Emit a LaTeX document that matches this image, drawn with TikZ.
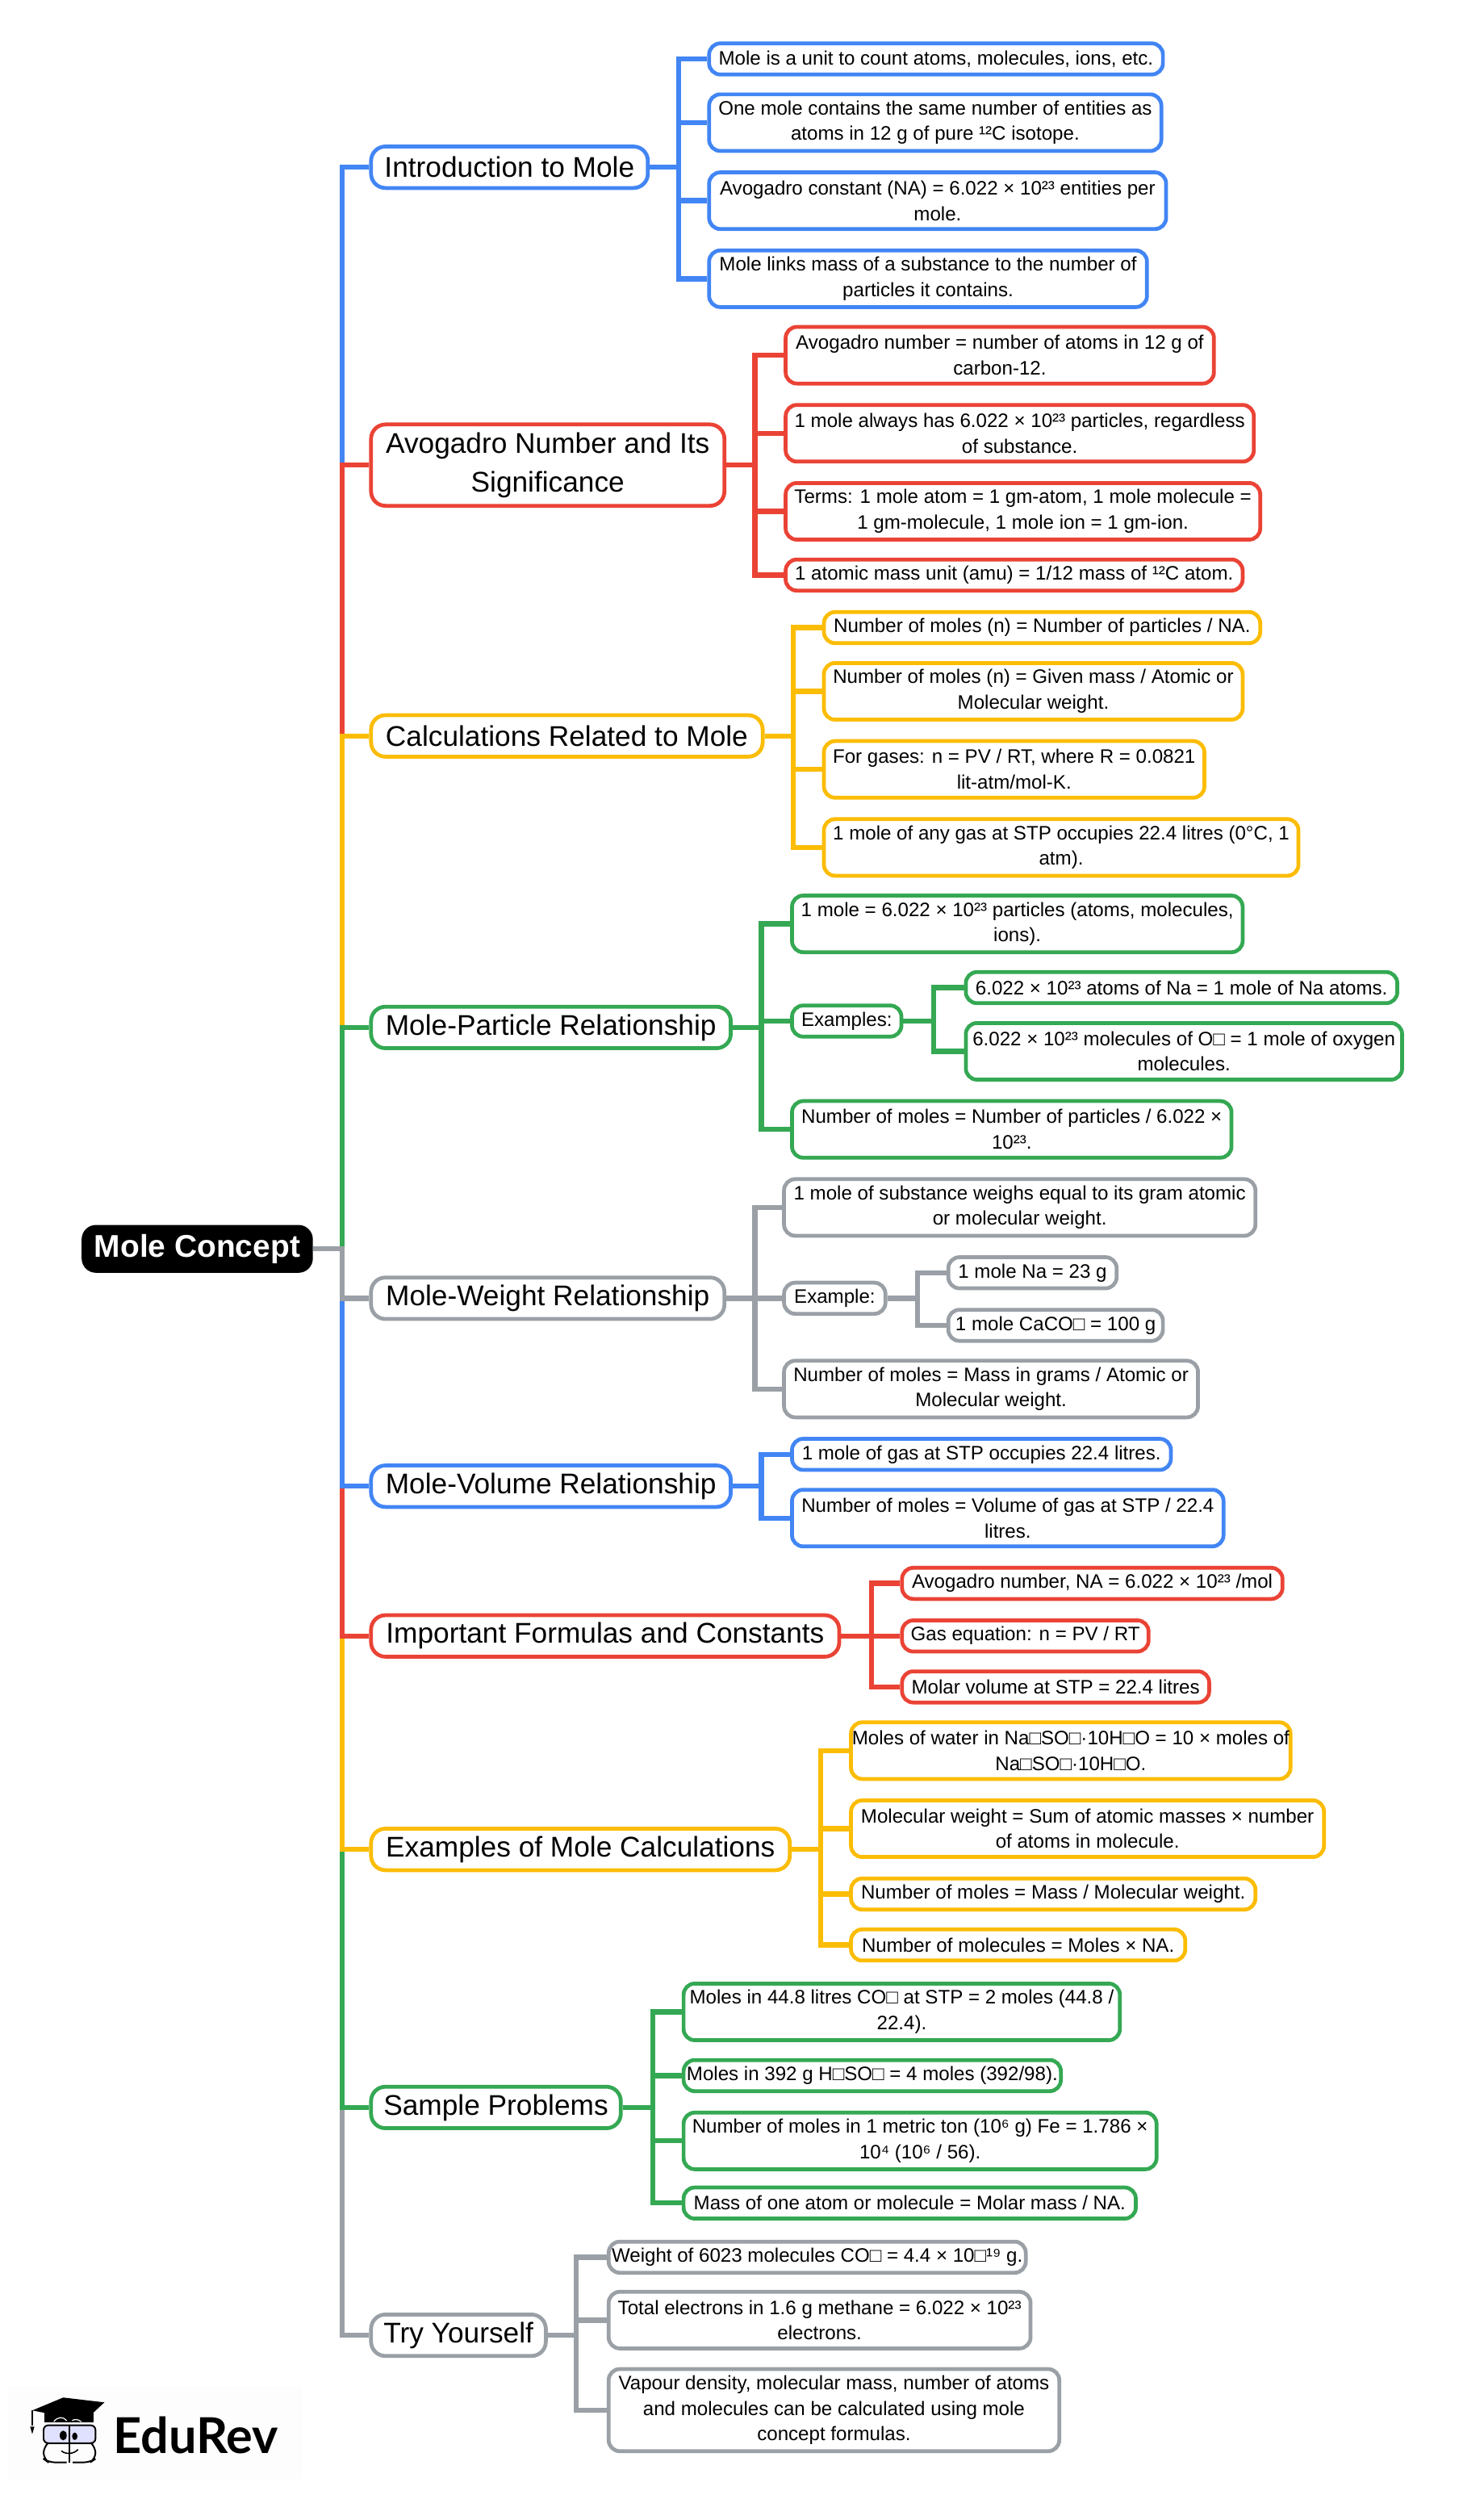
\documentclass[tikz,border=0pt]{standalone}
\usepackage{fontspec}
\setmainfont{Liberation Sans}
\newfontfamily\logofont{Lato}
\usetikzlibrary{positioning}
\definecolor{mapblue}{HTML}{4285F4}
\definecolor{mapred}{HTML}{EA4335}
\definecolor{mapyellow}{HTML}{FBBC04}
\definecolor{mapgreen}{HTML}{34A853}
\definecolor{mapgray}{HTML}{9AA0A6}
\definecolor{logoback}{HTML}{FDFDFE}
\tikzset{rootstyle/.style = {rectangle, rounded corners = 9pt, fill = black, text = white, anchor = west, inner sep = 0pt, minimum height = 30pt, font = \fontsize{19.7}{24}\selectfont\bfseries},
	branch/.style = {rectangle, rounded corners = 9pt, draw = #1, fill = white, line width = 2.4pt, anchor = west, xshift = -1.5pt, align = center, inner sep = 0pt, minimum height = 26pt, font = \fontsize{17.85}{24}\selectfont},
	leaf/.style = {rectangle, rounded corners = 7pt, draw = #1, fill = white, line width = 2.4pt, anchor = west, xshift = -1.5pt, align = center, inner ysep = 0pt, inner xsep = 0pt, minimum height = 19.5pt, font = \fontsize{12.2}{16}\selectfont},
	wd/.style = {minimum width = #1*1pt-1.4pt},
	two/.style = {minimum height = 35.5pt},
	three/.style = {minimum height = 51.5pt},
	wire/.style = {line width = 3.2pt, draw = #1}}
\begin{document}
\begin{tikzpicture}[x=1pt, y=-0.9987pt]
 \useasboundingbox (0,0) rectangle (930.2,1566.3);

 \node (root) at (51,784) [rootstyle, minimum width = 145pt] {Mole Concept};

 \node (intro) at (233,105) [branch=mapblue, wd=175] {Introduction to Mole};
 \node (avo) at (233,292) [branch=mapred, wd=223, minimum height = 51pt] {Avogadro Number and Its\\Significance};
 \node (calc) at (233,462) [branch=mapyellow, wd=247] {Calculations Related to Mole};
 \node (part) at (233,645) [branch=mapgreen, wd=227] {Mole-Particle Relationship};
 \node (weight) at (233,815) [branch=mapgray, wd=223] {Mole-Weight Relationship};
 \node (vol) at (233,933) [branch=mapblue, wd=227] {Mole-Volume Relationship};
 \node (form) at (233,1027) [branch=mapred, wd=295] {Important Formulas and Constants};
 \node (exam) at (233,1161) [branch=mapyellow, wd=264] {Examples of Mole Calculations};
 \node (samp) at (233,1323) [branch=mapgreen, wd=158] {Sample Problems};
 \node (try) at (233,1466) [branch=mapgray, wd=111] {Try Yourself};

 \node (i1) at (445,37) [leaf=mapblue, wd=286] {Mole is a unit to count atoms, molecules, ions, etc.};
 \node (i2) at (445,77) [leaf=mapblue, wd=285, two] {One mole contains the same number of entities as\\atoms in 12 g of pure ¹²C isotope.};
 \node (i3) at (445,126) [leaf=mapblue, wd=288, two] {Avogadro constant (NA) = 6.022 × 10²³ entities per\\mole.};
 \node (i4) at (445,175) [leaf=mapblue, wd=276, two] {Mole links mass of a substance to the number of\\particles it contains.};

 \node (a1) at (493,223) [leaf=mapred, wd=270, two] {Avogadro number = number of atoms in 12 g of\\carbon-12.};
 \node (a2) at (493,272) [leaf=mapred, wd=295, two] {1 mole always has 6.022 × 10²³ particles, regardless\\of substance.};
 \node (a3) at (493,321) [leaf=mapred, wd=299, two] {Terms: 1 mole atom = 1 gm-atom, 1 mole molecule =\\1 gm-molecule, 1 mole ion = 1 gm-ion.};
 \node (a4) at (493,361) [leaf=mapred, wd=288] {1 atomic mass unit (amu) = 1/12 mass of ¹²C atom.};

 \node (c1) at (517,394) [leaf=mapyellow, wd=275] {Number of moles (n) = Number of particles / NA.};
 \node (c2) at (517,434) [leaf=mapyellow, wd=264, two] {Number of moles (n) = Given mass / Atomic or\\Molecular weight.};
 \node (c3) at (517,483) [leaf=mapyellow, wd=240, two] {For gases: n = PV / RT, where R = 0.0821\\lit-atm/mol-K.};
 \node (c4) at (517,532) [leaf=mapyellow, wd=299, two] {1 mole of any gas at STP occupies 22.4 litres (0°C, 1\\atm).};

 \node (p1) at (497,580) [leaf=mapgreen, wd=284, two] {1 mole = 6.022 × 10²³ particles (atoms, molecules,\\ions).};
 \node (p2) at (497,641) [leaf=mapgreen, wd=70] {Examples:};
 \node (p2a) at (606,620) [leaf=mapgreen, wd=272] {6.022 × 10²³ atoms of Na = 1 mole of Na atoms.};
 \node (p2b) at (606,660) [leaf=mapgreen, wd=275, two] {6.022 × 10²³ molecules of O□ = 1 mole of oxygen\\molecules.};
 \node (p3) at (497,709) [leaf=mapgreen, wd=277, two] {Number of moles = Number of particles / 6.022 ×\\10²³.};

 \node (w1) at (492,758) [leaf=mapgray, wd=297, two] {1 mole of substance weighs equal to its gram atomic\\or molecular weight.};
 \node (w2) at (492,815) [leaf=mapgray, wd=65] {Example:};
 \node (w2a) at (595,799) [leaf=mapgray, wd=107] {1 mole Na = 23 g};
 \node (w2b) at (595,832) [leaf=mapgray, wd=136] {1 mole CaCO□ = 100 g};
 \node (w3) at (492,872) [leaf=mapgray, wd=261, two] {Number of moles = Mass in grams / Atomic or\\Molecular weight.};

 \node (v1) at (497,913) [leaf=mapblue, wd=239] {1 mole of gas at STP occupies 22.4 litres.};
 \node (v2) at (497,953) [leaf=mapblue, wd=272, two] {Number of moles = Volume of gas at STP / 22.4\\litres.};

 \node (f1) at (566,994) [leaf=mapred, wd=240] {Avogadro number, NA = 6.022 × 10²³ /mol};
 \node (f2) at (566,1027) [leaf=mapred, wd=156] {Gas equation: n = PV / RT};
 \node (f3) at (566,1059) [leaf=mapred, wd=194] {Molar volume at STP = 22.4 litres};

 \node (e1) at (534,1099) [leaf=mapyellow, wd=277, two, inner xsep = -3pt] {Moles of water in Na□SO□·10H□O = 10 × moles of\\Na□SO□·10H□O.};
 \node (e2) at (534,1148) [leaf=mapyellow, wd=298, two] {Molecular weight = Sum of atomic masses × number\\of atoms in molecule.};
 \node (e3) at (534,1189) [leaf=mapyellow, wd=255] {Number of moles = Mass / Molecular weight.};
 \node (e4) at (534,1221) [leaf=mapyellow, wd=211] {Number of molecules = Moles × NA.};

 \node (s1) at (429,1263) [leaf=mapgreen, wd=275, two] {Moles in 44.8 litres CO□ at STP = 2 moles (44.8 /\\22.4).};
 \node (s2) at (429,1303) [leaf=mapgreen, wd=238, inner xsep = -3pt] {Moles in 392 g H□SO□ = 4 moles (392/98).};
 \node (s3) at (429,1344) [leaf=mapgreen, wd=298, two] {Number of moles in 1 metric ton (10⁶ g) Fe = 1.786 ×\\10⁴ (10⁶ / 56).};
 \node (s4) at (429,1383) [leaf=mapgreen, wd=285] {Mass of one atom or molecule = Molar mass / NA.};

 \node (t1) at (382,1417) [leaf=mapgray, wd=263, inner xsep = -3pt] {Weight of 6023 molecules CO□ = 4.4 × 10□¹⁹ g.};
 \node (t2) at (382,1456.5) [leaf=mapgray, wd=266, two] {Total electrons in 1.6 g methane = 6.022 × 10²³\\electrons.};
 \node (t3) at (382,1513) [leaf=mapgray, wd=284, three] {Vapour density, molecular mass, number of atoms\\and molecules can be calculated using mole\\concept formulas.};

 \draw [wire=mapblue] (root.east) -- ++(18,0) |- (intro.west);
 \draw [wire=mapred] (root.east) -- ++(18,0) |- (avo.west);
 \draw [wire=mapyellow] (root.east) -- ++(18,0) |- (calc.west);
 \draw [wire=mapgreen] (root.east) -- ++(18,0) |- (part.west);
 \draw [wire=mapgray] (root.east) -- ++(18,0) |- (try.west);
 \draw [wire=mapgreen] (root.east) -- ++(18,0) |- (samp.west);
 \draw [wire=mapyellow] (root.east) -- ++(18,0) |- (exam.west);
 \draw [wire=mapred] (root.east) -- ++(18,0) |- (form.west);
 \draw [wire=mapblue] (root.east) -- ++(18,0) |- (vol.west);
 \draw [wire=mapgray] (root.east) -- ++(18,0) |- (weight.west);

 \foreach \n in {i1,i2,i3,i4}
  \draw [wire=mapblue] (intro.east) -- ++(18,0) |- (\n.west);
 \foreach \n in {a1,a2,a3,a4}
  \draw [wire=mapred] (avo.east) -- ++(18,0) |- (\n.west);
 \foreach \n in {c1,c2,c3,c4}
  \draw [wire=mapyellow] (calc.east) -- ++(18,0) |- (\n.west);
 \foreach \n in {p1,p2,p3}
  \draw [wire=mapgreen] (part.east) -- ++(18,0) |- (\n.west);
 \foreach \n in {p2a,p2b}
  \draw [wire=mapgreen] (p2.east) -- ++(19,0) |- (\n.west);
 \foreach \n in {w1,w2,w3}
  \draw [wire=mapgray] (weight.east) -- ++(18,0) |- (\n.west);
 \foreach \n in {w2a,w2b}
  \draw [wire=mapgray] (w2.east) -- ++(19,0) |- (\n.west);
 \foreach \n in {v1,v2}
  \draw [wire=mapblue] (vol.east) -- ++(18,0) |- (\n.west);
 \foreach \n in {f1,f2,f3}
  \draw [wire=mapred] (form.east) -- ++(19,0) |- (\n.west);
 \foreach \n in {e1,e2,e3,e4}
  \draw [wire=mapyellow] (exam.east) -- ++(18,0) |- (\n.west);
 \foreach \n in {s1,s2,s3,s4}
  \draw [wire=mapgreen] (samp.east) -- ++(19,0) |- (\n.west);
 \foreach \n in {t1,t2,t3}
  \draw [wire=mapgray] (try.east) -- ++(18,0) |- (\n.west);

 \begin{scope}[shift={(5.06,1498)}, x=0.1687pt, y=-0.1687pt]
  \fill [logoback] (0,0) rectangle (1095,345);
  \fill (135,95) -- (135,135) -- (318,135) -- (318,95) -- cycle;
  \fill (90,90) -- (205,42) -- (358,60) -- (285,128) -- cycle;
  \draw [line width = 0.7pt] (90,90) -- (90,145);
  \fill (82,150) -- (98,150) -- (90,178) -- cycle;
  \draw [white, line width = 0.6pt] (170,132) .. controls (185,112) and (205,112) .. (218,128);
  \draw [white, line width = 0.6pt] (238,128) .. controls (245,122) and (262,122) .. (272,132);
  \draw [fill = blue!12, line width = 1pt, rounded corners = 3pt] (132,145) rectangle (325,212);
  \draw [line width = 1pt, rounded corners = 4pt] (218,283) -- (150,283) -- (132,270) -- (132,225) -- (145,214);
  \draw [line width = 1pt, rounded corners = 4pt] (240,283) -- (305,283) -- (325,270) -- (325,225) -- (312,214);
  \draw [line width = 1pt] (228,142) -- (228,283);
  \fill (205,183) ellipse [x radius = 13, y radius = 18];
  \fill (248,186) ellipse [x radius = 10, y radius = 14];
  \draw [line width = 0.8pt] (198,240) .. controls (215,255) and (245,252) .. (260,235);
  \node (logotext) at (390,183) [anchor = west, inner sep = 0pt, font = \logofont\bfseries\fontsize{31}{32}\selectfont] {EduRev};
 \end{scope}

\end{tikzpicture}
\end{document}
